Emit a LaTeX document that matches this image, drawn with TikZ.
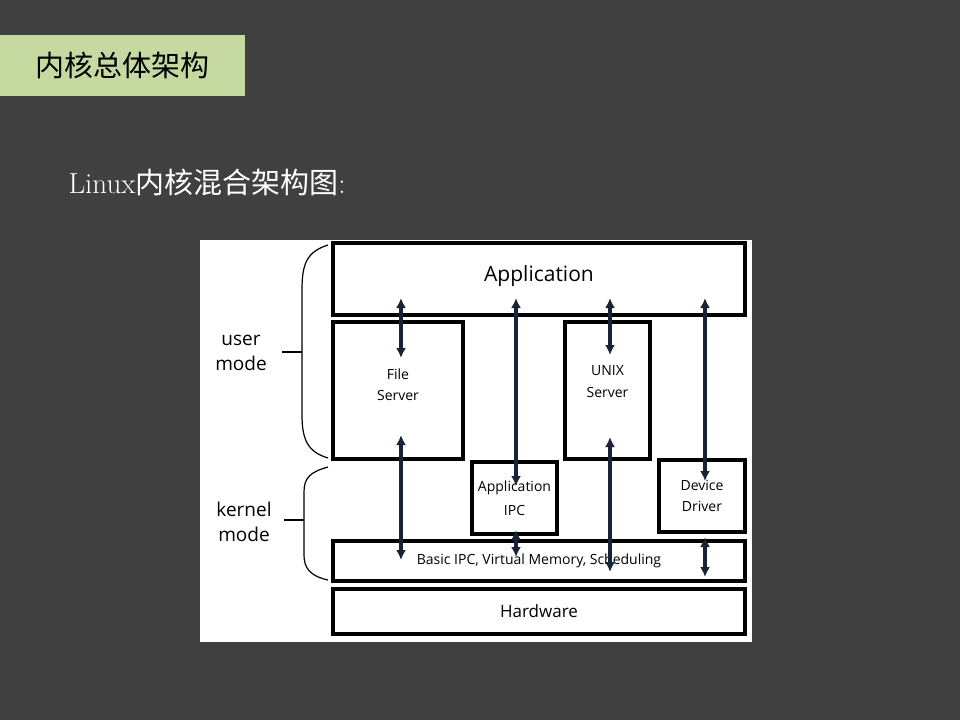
\documentclass[tikz,border=0pt]{standalone}
\usepackage{fontspec}
\setsansfont{Open Sans}
\newfontfamily\cjk{Noto Sans CJK SC}
\usetikzlibrary{arrows.meta}
\definecolor{slidebg}{RGB}{64,64,64}
\definecolor{titlebg}{RGB}{198,217,160}
\definecolor{arrowc}{RGB}{25,35,55}
\tikzset{
  blk/.style={draw,line width=3.2pt,inner sep=0pt,font=\sffamily\fontsize{14}{26}\selectfont,align=center},
  lbl/.style={font=\sffamily\fontsize{19}{25}\selectfont,align=center},
  link/.style={arrowc,line width=4pt,{Latex[length=10pt,width=10pt]}-{Latex[length=10pt,width=10pt]}}
}
\newcommand{\blkat}[6]{\node[blk,minimum width=#4-#2,minimum height=#5-#3] (#1) at ({(#2+#4)/2},{(#3+#5)/2}) {#6};}
\begin{document}
\begin{tikzpicture}[x=1pt,y=-1pt]
    \fill[slidebg] (0,0) rectangle (960,720);
    \useasboundingbox (0,0) rectangle (960,720);

    % title
    \node[fill=titlebg,minimum width=245,minimum height=61,anchor=north west,
      font=\cjk\fontsize{29}{30}\selectfont] (title) at (0,35) {内核总体架构};
    \node[anchor=west,white,font=\fontsize{29}{30}\selectfont] (sub) at (65,182)
      {Linux{\cjk 内核混合架构图}:};

    % diagram
    \fill[white] (200,240) rectangle (752,642);
    \blkat{app}{333}{243}{745}{315}{\fontsize{21}{24}\selectfont\raisebox{10pt}{Application}}
    \blkat{fs}{333}{322}{463}{459}{\raisebox{12pt}{\shortstack{File\\[8pt]Server}}}
    \blkat{ux}{565}{322}{650}{459}{\raisebox{18pt}{\shortstack{UNIX\\[8pt]Server}}}
    \blkat{aipc}{472}{462}{557}{534}{\shortstack{Application\\[8pt]IPC}}
    \blkat{dev}{659}{460}{745}{532}{\shortstack{Device\\[8pt]Driver}}
    \blkat{basic}{333}{541}{745}{581}{\raisebox{-2pt}{Basic IPC, Virtual Memory, Scheduling}}
    \blkat{hw}{333}{589}{745}{634}{\fontsize{17}{20}\selectfont Hardware}

    % arrows
    \foreach \x/\a/\b in {401/298/358, 401/435/560, 516/298/486, 516/530/557,
                          610/298/355, 610/437/572, 705/298/481, 705/537/577}{
      \coordinate (p) at (\x,\a);
      \coordinate (q) at (\x,\b);
      \draw[link] (p) -- (q);
    }

    % braces
    \draw[line width=1.2pt] (328,245) .. controls (306,252) and (302,265) .. (302,290) -- (302,415)
      .. controls (302,440) and (308,452) .. (328,458);
    \draw[line width=1.2pt] (282,352) -- (302,352);
    \draw[line width=1.2pt] (328,467) .. controls (310,472) and (304,478) .. (304,492) -- (304,555)
      .. controls (304,568) and (310,576) .. (328,580);
    \draw[line width=1.2pt] (284,520) -- (304,520);
    \node[lbl] (um) at (241,353) {user\\mode};
    \node[lbl] (km) at (244,522) {kernel\\mode};
\end{tikzpicture}
\end{document}
